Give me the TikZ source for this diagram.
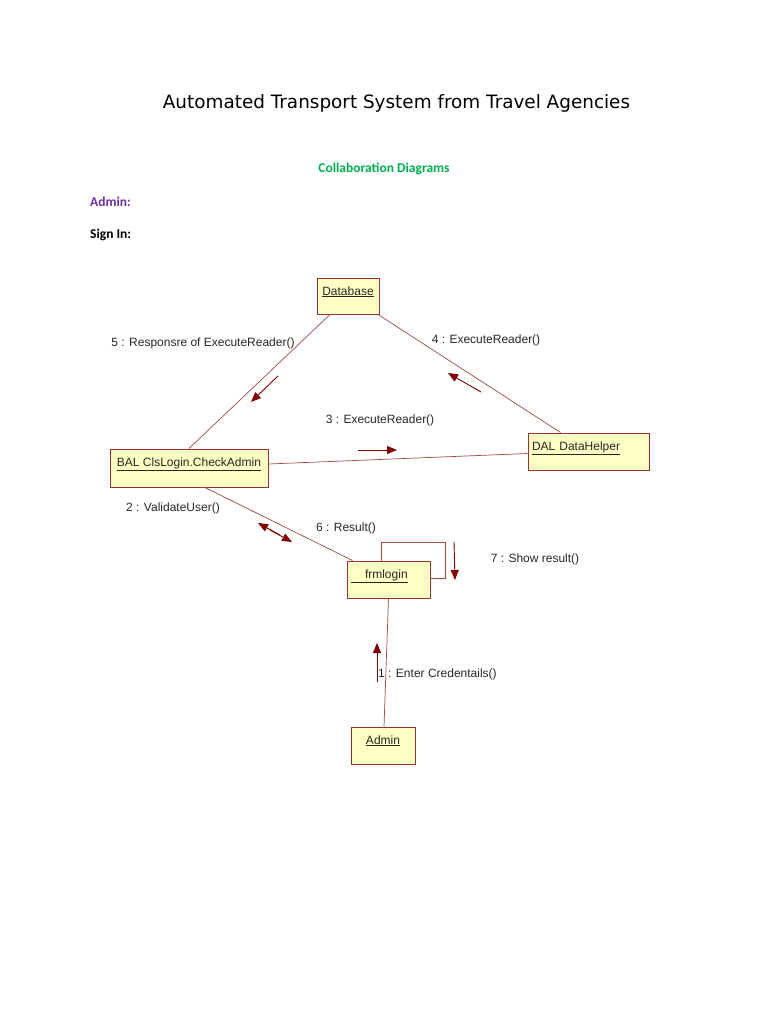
\documentclass[tikz,border=0pt]{standalone}
\usepackage{fontspec}
\setmainfont{Liberation Sans}
\newfontfamily\titlefont{DejaVu Sans}
\newfontfamily\headfont{Carlito}
\usetikzlibrary{arrows.meta,positioning}
\definecolor{boxfill}{RGB}{255,255,196}
\definecolor{boxline}{RGB}{153,51,51}
\definecolor{linkred}{RGB}{160,70,70}
\definecolor{msgred}{RGB}{128,0,0}
\definecolor{headgreen}{RGB}{0,176,80}
\definecolor{headpurple}{RGB}{112,48,160}
\tikzset{
  obj/.style={draw=boxline, fill=boxfill, line width=1pt, inner xsep=4pt, inner ysep=3pt,
    text height=14pt, font=\fontsize{12}{14}\selectfont, text=black!85},
  link/.style={draw=linkred, line width=0.7pt},
  msg/.style={draw=msgred, line width=0.9pt, -{Triangle[length=10pt,width=8pt]}},
  msglabel/.style={font=\fontsize{12}{14}\selectfont, text=black!85, inner sep=0pt},
  heading/.style={font=\headfont\bfseries\fontsize{13.5}{16}\selectfont, inner sep=0pt}
}
\begin{document}
\begin{tikzpicture}[x=1pt,y=-1pt]
\useasboundingbox (0,0) rectangle (768,1024);

% headings
\node[font=\titlefont\fontsize{18.4}{22}\selectfont] (title) at (396.5,103) {Automated Transport System from Travel Agencies};
\node[heading, text=headgreen] (collab) at (384,169) {Collaboration Diagrams};
\node[heading, text=headpurple, anchor=west] (admhead) at (90,202) {Admin:};
\node[heading, anchor=west] (signin) at (90,235) {Sign In:};

% objects
\node[obj, minimum width=62pt, text depth=16pt] (db) at (348,296) {\underline{Database}};
\node[obj, minimum width=158pt, text depth=18pt] (bal) at (189,468) {\underline{BAL ClsLogin.CheckAdmin}};
\node[obj, text width=113pt, align=left, text depth=17pt] (dal) at (588.5,451.5) {\underline{DAL DataHelper}};
\node[obj, text width=75pt, align=left, text depth=17pt] (frm) at (388.5,579.5) {\underline{\hspace{6pt}\ \ frmlogin}};
\node[obj, minimum width=64pt, text depth=17pt] (adm) at (383,745.5) {\underline{Admin}};

% links
\coordinate (loop) at (445,542);
\path[link] ([xshift=-18pt]db.south) -- (bal.north);
\path[link] ([xshift=30pt]db.south) -- ([xshift=-28pt]dal.north);
\path[link] ([yshift=4pt]bal.east) -- ([yshift=-2pt]dal.west);
\path[link] ([xshift=16pt]bal.south) -- ([xshift=-36pt]frm.north);
\path[link] (frm.south) -- ([xshift=1pt]adm.north);
\path[link] ([xshift=-7pt]frm.north) |- (loop) |- ([yshift=1.5pt]frm.east);

% messages
\coordinate (m5a) at (278,376);  \coordinate (m5b) at (251,402);
\coordinate (m4a) at (481,392);  \coordinate (m4b) at (448,373);
\coordinate (m3a) at (358,450);  \coordinate (m3b) at (397,450);
\coordinate (m2a) at (270,530);  \coordinate (m2b) at (292,542);
\coordinate (m6a) at (280,535);  \coordinate (m6b) at (258,523);
\coordinate (m7a) at (454,542);  \coordinate (m7b) at (455,580);
\coordinate (m1a) at (377,682);  \coordinate (m1b) at (377,643);
\path[msg] (m5a) -- (m5b);
\path[msg] (m4a) -- (m4b);
\path[msg] (m3a) -- (m3b);
\path[msg] (m2a) -- (m2b);
\path[msg] (m6a) -- (m6b);
\path[msg] (m7a) -- (m7b);
\path[msg] (m1a) -- (m1b);

% message labels
\node[msglabel] (l5) at (203,343) {5 : Responsre of ExecuteReader()};
\node[msglabel] (l4) at (486,340) {4 : ExecuteReader()};
\node[msglabel] (l3) at (380,420) {3 : ExecuteReader()};
\node[msglabel] (l2) at (173,508) {2 : ValidateUser()};
\node[msglabel] (l6) at (346,528) {6 : Result()};
\node[msglabel] (l7) at (535,559) {7 : Show result()};
\node[msglabel, anchor=west] (l1) at (378,674) {1 : Enter Credentails()};

\end{tikzpicture}
\end{document}
